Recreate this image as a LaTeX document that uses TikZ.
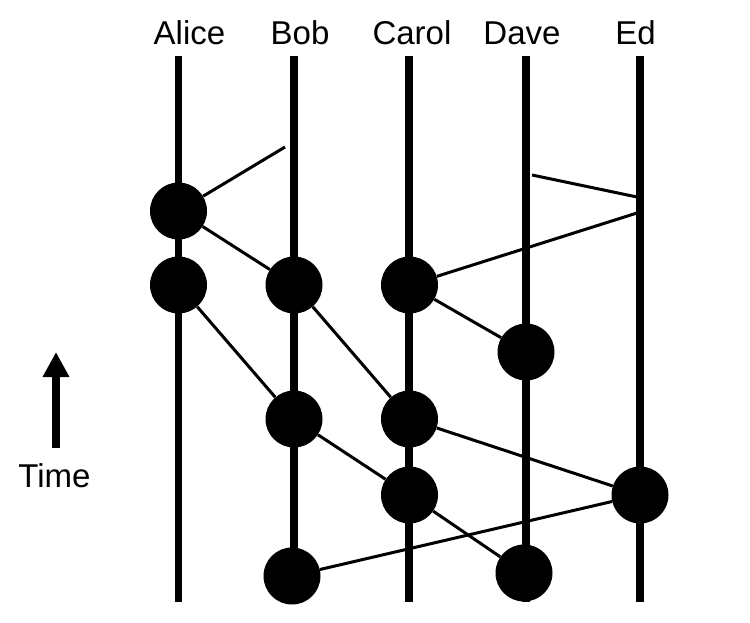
\documentclass[tikz,border=0pt]{standalone}
\usepackage{fontspec}
\setmainfont{Liberation Sans}
\usetikzlibrary{arrows.meta}
\begin{document}
\begin{tikzpicture}[x=1pt,y=-1pt,
  lifeline/.style={line width=7.5pt},
  event/.style={circle,fill=black,draw=none,minimum size=57pt,inner sep=0pt},
  msg/.style={line width=3pt},
  who/.style={anchor=base,inner sep=0pt,font=\fontsize{33}{40}\selectfont}]
\useasboundingbox (0,0) rectangle (750,623);
% labels
\node[who] (lA) at (189.5,45) {Alice};
\node[who] (lB) at (300,45) {Bob};
\node[who] (lC) at (412,45) {Carol};
\node[who] (lD) at (522,45) {Dave};
\node[who] (lE) at (635.5,45) {Ed};
% lifelines
\coordinate (At) at (178.5,56); \coordinate (Ab) at (178.5,602);
\coordinate (Bt) at (294,56);   \coordinate (Bb) at (294,576);
\coordinate (Ct) at (409,56);   \coordinate (Cb) at (409,602);
\coordinate (Dt) at (526,56);   \coordinate (Db) at (526,602);
\coordinate (Et) at (640,56);   \coordinate (Eb) at (640,602);
\draw[lifeline] (At) -- (Ab);
\draw[lifeline] (Bt) -- (Bb);
\draw[lifeline] (Ct) -- (Cb);
\draw[lifeline,line width=8.5pt] (Dt) -- (Db);
\draw[lifeline] (Et) -- (Eb);
% events
\node[event] (A1) at (178.5,211) {};
\node[event] (A2) at (178.5,285) {};
\node[event] (B1) at (294,285) {};
\node[event] (C1) at (409.5,285) {};
\node[event] (D1) at (526,352) {};
\node[event] (B2) at (294,419) {};
\node[event] (C2) at (409.5,419) {};
\node[event] (C3) at (409.5,495) {};
\node[event] (E1) at (640,495) {};
\node[event] (B3) at (292,576) {};
\node[event] (D2) at (524,573) {};
% free ends
\coordinate (bobin) at (285,147);
\coordinate (daveout) at (532,175);
\coordinate (edin) at (637,197);
\coordinate (edout) at (637,213);
% messages
\draw[msg] (A1) -- (bobin);
\draw[msg] (daveout) -- (edin);
\draw[msg] (edout) -- (C1);
\draw[msg] (A1) -- (B1);
\draw[msg] (C1) -- (D1);
\draw[msg] (A2) -- (B2);
\draw[msg] (B1) -- (C2);
\draw[msg] (B2) -- (C3);
\draw[msg] (C2) -- (E1);
\draw[msg] (C3) -- (D2);
\draw[msg] (E1) -- (B3);
% time arrow
\coordinate (tb) at (56,448);
\coordinate (tt) at (56,352);
\draw[line width=8pt,-{Triangle[width=25pt,length=25pt]}] (tb) -- (tt);
\node[who] (time) at (54.5,487) {Time};
\end{tikzpicture}
\end{document}
